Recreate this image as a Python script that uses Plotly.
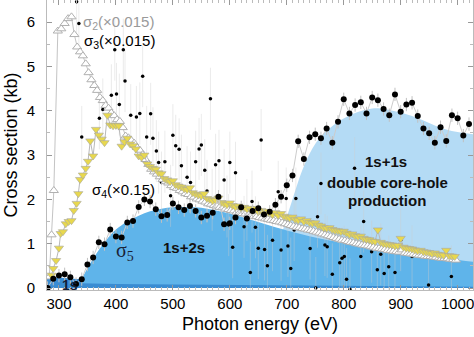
import plotly.graph_objects as go

# ---------------- data ----------------
# 1s+1s double core-hole band (light blue)
lb_E = [640, 660, 680, 693, 700, 710, 720, 730, 745, 760, 775, 790, 805, 820, 835, 850,
        865, 880, 900, 920, 940, 960, 980, 1000, 1027]
lb_V = [0, 0.35, 0.9, 1.3, 1.6, 2.0, 2.4, 2.75, 3.15, 3.42, 3.6, 3.75, 3.86, 3.95, 4.01, 4.05,
        4.05, 4.02, 3.96, 3.88, 3.78, 3.67, 3.58, 3.52, 3.47]

# 1s+2s band (medium blue)
mb_E = [333, 340, 350, 360, 370, 380, 390, 400, 420, 440, 460, 480, 500, 520, 540, 560, 580,
        600, 620, 640, 660, 680, 700, 740, 780, 820, 860, 900, 940, 980, 1000, 1027]
mb_V = [0.18, 0.22, 0.45, 0.66, 0.86, 1.03, 1.19, 1.32, 1.5, 1.63, 1.73, 1.79, 1.82, 1.83, 1.82,
        1.79, 1.74, 1.68, 1.61, 1.53, 1.45, 1.37, 1.3, 1.17, 1.06, 0.97, 0.9, 0.83, 0.75, 0.67,
        0.63, 0.59]

# 1s band (dark blue)
db_E = [279, 300, 320, 336, 339, 400, 500, 600, 700, 800, 900, 1027]
db_V = [0.26, 0.24, 0.22, 0.2, 0.11, 0.09, 0.08, 0.07, 0.06, 0.05, 0.04, 0.03]

# sigma_5 (large black dots)
s5_E = [280, 290, 300, 310, 320, 330, 340, 350, 360, 370, 380, 390, 400, 410, 420, 430, 440,
        450, 460, 470, 480, 490, 500, 510, 520, 530, 540, 550, 560, 570, 580, 590, 600, 610,
        620, 630, 640, 650, 660, 670, 680, 690, 700, 710, 720, 730, 740, 750, 760, 770, 780,
        790, 800, 810, 820, 830, 840, 850, 860, 870, 880, 890, 900, 910, 920, 930, 940, 950,
        960, 970, 980, 990, 1000, 1010, 1020]
s5_V = [0.0, 0.21, 0.28, 0.31, 0.24, 0.09, 0.2, 0.53, 0.69, 1.03,
        0.99, 1.32, 1.16, 1.14, 1.48, 1.51, 1.83, 2.0, 1.95, 1.78,
        1.62, 1.65, 1.91, 1.82, 1.76, 1.85, 1.74, 1.59, 1.63, 1.70,
        2.06, 1.44, 1.46, 1.59, 1.82, 1.57, 1.74, 1.8, 1.66, 1.72,
        1.88, 2.06, 2.32, 2.54, 3.31, 2.91, 3.40, 3.47, 3.38, 3.6,
        3.28, 3.75, 4.26, 3.94, 4.13, 4.19, 3.94, 4.3, 4.24, 4.04,
        3.9, 4.37, 3.98, 4.14, 4.18, 3.88, 3.6, 3.49, 3.28, 3.63,
        3.32, 3.9, 3.83, 3.44, 3.7]

# sigma_3 (x0.015) small black dots
s3_E = [331, 335, 340, 371, 377, 392, 398, 401, 406, 413, 416, 426, 436, 442, 447, 454, 461,
        465, 471, 475, 480, 486, 496, 500, 505, 511, 515, 525, 531, 540, 546, 550, 556, 560,
        566, 569, 575, 581, 590, 595, 598, 600, 605, 610, 625, 630, 636, 639, 645, 650, 655,
        661, 666, 675, 685, 690, 699, 702, 707, 713, 716, 741, 751, 754, 760, 767, 771, 780,
        793, 797, 801, 805, 811, 819, 830, 835, 849, 859, 865, 871, 879, 890, 900, 920, 949,
        989]
s3_V = [6.46, 5.97, 3.41, 3.83, 4.03, 4.35, 5.38, 4.38, 4.14, 5.38, 4.67, 3.9, 3.86, 3.94,
        4.78, 3.41, 3.93, 3.38, 3.09, 2.83, 2.38, 2.85, 2.08, 3.45, 3.21, 3.13, 2.76, 2.5, 2.38,
        2.85, 3.14, 3.23, 2.66, 2.19, 4.27, 1.99, 2.78, 2.87, 2.44, 1.84, 1.42, 2.83, 0.92, 2.6,
        1.38, 1.76, 0.35, 1.95, 1.37, 0.9, 3.34, 0.87, 0.5, 1.08, 2.17, 0.86, 2.02, 0.95, 0.44,
        1.31, 2.02, 0.89, 0.0, 1.61, 2.36, 0.97, 0.93, 0.31, 0.57, 0.67, 0.71, 0.2, -0.03, 2.7,
        0.71, 1.5, 0.82, 0.41, 0.76, 0.33, 0.48, 0.35, 1.08, 0.71, 0.07, 0.26]

# sigma_2 (x0.015) open grey up-triangles
s2_E = [283, 287, 291, 298, 304, 310, 316, 322, 327, 332, 337, 342, 347, 352, 357, 362, 367,
        372, 377, 382, 387, 392, 397, 402, 407, 412, 417, 422, 427, 432, 437, 442, 447, 452,
        457, 462, 467, 472, 477, 482, 487, 492, 497, 502, 507, 512, 517, 522, 527, 532, 537,
        542, 547, 552, 557, 562, 567, 572, 577, 582, 587, 592, 597, 602, 607, 612, 617, 622,
        627, 632, 637, 642, 647, 652, 657, 662, 667, 672, 677, 682, 687, 692, 697, 702, 707,
        712, 717, 722, 727, 732, 737, 742, 747, 752, 757, 762, 767, 772, 777, 782, 787, 792,
        797, 802, 807, 812, 817, 822, 827, 832, 837, 842, 847, 852, 857, 862, 867, 872, 877,
        882, 887, 892, 897, 902, 907, 912, 917, 922, 927, 932, 937, 942, 947, 952, 957, 962,
        967, 972, 977, 982, 987, 992, 997]
s2_V = [0.25, 1.20, 2.20, 5.80, 5.85, 5.97, 6.08, 6.12, 5.72, 5.44, 5.33, 5.24, 5.06, 4.86,
        4.70, 4.57, 4.46, 4.30, 4.23, 4.12, 4.06, 3.95, 3.89, 3.80, 3.76, 3.62, 3.43, 3.39,
        3.33, 3.27, 3.17, 3.11, 3.01, 2.90, 2.79, 2.68, 2.62, 2.57, 2.51, 2.45, 2.40, 2.37,
        2.31, 2.27, 2.25, 2.20, 2.17, 2.13, 2.11, 2.06, 2.05, 2.01, 1.99, 1.96, 1.94, 1.90,
        1.89, 1.86, 1.85, 1.82, 1.81, 1.78, 1.77, 1.75, 1.74, 1.71, 1.70, 1.68, 1.67, 1.65,
        1.64, 1.62, 1.61, 1.59, 1.58, 1.56, 1.55, 1.53, 1.52, 1.50, 1.49, 1.47, 1.45, 1.43,
        1.41, 1.39, 1.37, 1.36, 1.34, 1.33, 1.31, 1.30, 1.28, 1.26, 1.24, 1.22, 1.20, 1.18,
        1.16, 1.14, 1.12, 1.10, 1.08, 1.07, 1.05, 1.03, 1.02, 1.00, 0.99, 0.97, 0.96, 0.95,
        0.93, 0.92, 0.90, 0.89, 0.88, 0.87, 0.85, 0.84, 0.83, 0.82, 0.81, 0.86, 0.79, 0.78,
        0.77, 0.76, 0.75, 0.74, 0.73, 0.72, 0.71, 0.71, 0.70, 0.69, 0.68, 0.67, 0.67, 0.66,
        0.65, 0.64, 0.63]

# sigma_4 (x0.15) yellow down-triangles
s4_E = [287, 290, 295, 300, 303, 307, 312, 317, 322, 326, 331, 334, 337, 342, 347, 351, 355,
        360, 365, 370, 375, 380, 385, 390, 395, 400, 405, 410, 415, 420, 425, 430, 435, 440,
        445, 450, 455, 460, 465, 470, 475, 480, 485, 490, 495, 500, 505, 510, 515, 520, 525,
        530, 535, 540, 545, 550, 555, 560, 565, 570, 575, 580, 585, 590, 595, 600, 605, 610,
        615, 620, 625, 630, 635, 640, 645, 650, 655, 660, 665, 670, 675, 680, 685, 690, 695,
        700, 705, 710, 715, 720, 725, 730, 735, 740, 745, 750, 755, 760, 765, 770, 775, 780,
        785, 790, 795, 800, 805, 810, 815, 820, 825, 830, 835, 840, 845, 850, 855, 860, 865,
        870, 875, 880, 885, 890, 895, 900, 905, 910, 915, 920, 925, 930, 935, 940, 945, 950,
        955, 960, 965, 970, 975, 980, 985, 990, 995]
s4_V = [0.29, 0.44, 0.62, 0.90, 1.23, 1.27, 1.45, 1.50, 1.52, 1.75, 1.91, 2.13, 2.45, 2.55,
        2.70, 2.86, 3.32, 2.98, 3.58, 3.45, 3.36, 3.28, 3.90, 3.68, 3.66, 3.67, 3.66, 3.20,
        3.30, 3.38, 3.25, 3.21, 3.14, 2.98, 2.95, 3.00, 2.80, 2.74, 2.70, 2.68, 2.60, 2.58,
        2.47, 2.44, 2.40, 2.42, 2.33, 2.30, 2.28, 2.24, 2.22, 2.26, 2.15, 2.12, 2.10, 2.08,
        2.13, 2.02, 2.00, 1.97, 1.98, 2.03, 1.93, 1.90, 1.88, 1.92, 1.86, 1.83, 1.85, 1.80,
        1.82, 1.78, 1.80, 1.74, 1.79, 1.72, 1.75, 1.70, 1.73, 1.68, 1.66, 1.70, 1.64, 1.68,
        1.62, 1.60, 1.58, 1.60, 1.55, 1.53, 1.56, 1.50, 1.52, 1.48, 1.46, 1.47, 1.42, 1.40,
        1.36, 1.35, 1.36, 1.32, 1.30, 1.29, 1.27, 1.28, 1.24, 1.21, 1.22, 1.18, 1.16, 1.17,
        1.12, 1.10, 1.09, 1.06, 1.05, 1.31, 1.03, 1.00, 0.99, 0.98, 0.97, 0.95, 0.96, 1.12,
        0.92, 0.90, 0.89, 0.88, 0.86, 0.84, 0.85, 0.82, 0.81, 0.80, 0.78, 0.79, 0.76, 0.75,
        0.74, 0.85, 0.73, 0.72, 0.71]

x_ticks = [300, 400, 500, 600, 700, 800, 900, 1000]
y_ticks = [0, 1, 2, 3, 4, 5, 6]

# ---------------- figure ----------------
fig = go.Figure()

fig.add_trace(go.Scatter(x=lb_E, y=lb_V, mode="lines", fill="tozeroy", line=dict(width=0, shape="spline"),
                         fillcolor="#b4dbf5", hoverinfo="skip"))
fig.add_trace(go.Scatter(x=mb_E, y=mb_V, mode="lines", fill="tozeroy", line=dict(width=0, shape="spline"),
                         fillcolor="#5fb4ea", hoverinfo="skip"))
fig.add_trace(go.Scatter(x=db_E, y=db_V, mode="lines", fill="tozeroy", line=dict(width=0),
                         fillcolor="#3a8cd2", hoverinfo="skip"))

fig.add_trace(go.Scatter(x=s3_E, y=s3_V, mode="markers",
                         marker=dict(size=3.5, color="black"),
                         error_y=dict(type="constant", value=0.7, color="rgba(205,205,205,0.4)",
                                      thickness=1, width=0)))

fig.add_trace(go.Scatter(x=s2_E, y=s2_V, mode="lines+markers",
                         line=dict(color="#c4c4c4", width=1),
                         marker=dict(symbol="triangle-up", size=8, color="white",
                                     line=dict(color="#b0b0b0", width=1))))

fig.add_trace(go.Scatter(x=s4_E, y=s4_V, mode="lines+markers",
                         line=dict(color="#b8b8b8", width=1),
                         marker=dict(symbol="triangle-down", size=8, color="#e8d84e",
                                     line=dict(color="#a8a8a0", width=0.6))))

fig.add_trace(go.Scatter(x=s5_E, y=s5_V, mode="lines+markers",
                         line=dict(color="#cccccc", width=1),
                         marker=dict(size=6, color="black"),
                         error_y=dict(type="constant", value=0.15, color="#c0c0c0",
                                      thickness=1, width=0)))

txt = dict(family="Liberation Sans, Arial, sans-serif", size=15, color="black")
bold = dict(family="Liberation Sans, Arial, sans-serif", size=15, color="#111111")
annots = [
    dict(x=339, y=6.0, text="σ<sub>2</sub>(×0.015)", xanchor="left",
         font=dict(family="Liberation Sans, Arial, sans-serif", size=15, color="#9a9a9a")),
    dict(x=340, y=5.56, text="σ<sub>3</sub>(×0.015)", xanchor="left", font=txt),
    dict(x=354, y=2.19, text="σ<sub>4</sub>(×0.15)", xanchor="left", font=txt),
    dict(x=397, y=0.82, text="σ<sub>5</sub>", xanchor="left",
         font=dict(family="Liberation Serif, Times New Roman, serif", size=20, color="#1a2236")),
    dict(x=302, y=0.07, text="<b>1s</b>", xanchor="left",
         font=dict(family="Liberation Sans, Arial, sans-serif", size=14, color="#10203a")),
    dict(x=519, y=0.92, text="<b>1s+2s</b>", font=bold),
    dict(x=874, y=2.85, text="<b>1s+1s</b>", font=bold),
    dict(x=876, y=2.37, text="<b>double core-hole</b>", font=bold),
    dict(x=876, y=1.97, text="<b>production</b>", font=bold),
]
for a in annots:
    a.update(xref="x", yref="y", showarrow=False)

fig.update_layout(
    width=474, height=337,
    margin=dict(l=47, r=1, t=0, b=47),
    paper_bgcolor="white", plot_bgcolor="white",
    showlegend=False,
    annotations=annots,
    font=dict(family="Liberation Sans, Arial, sans-serif", color="black"),
)
fig.update_xaxes(
    range=[279, 1027], tickvals=x_ticks, ticktext=[str(v) for v in x_ticks],
    ticks="inside", ticklen=5, tickcolor="#999999", showline=True, linecolor="#bbbbbb",
    mirror="ticks", showgrid=False, zeroline=False,
    minor=dict(dtick=10, tick0=0, ticks="inside", ticklen=3, tickcolor="#bbbbbb"),
    tickfont=dict(size=15, color="black"), ticklabeloverflow="allow",
    title=dict(text="Photon energy (eV)", font=dict(size=18, color="black"), standoff=6),
    automargin=False,
)
fig.update_yaxes(
    range=[-0.045, 6.5], tickvals=y_ticks, ticktext=[str(v) for v in y_ticks],
    ticks="inside", ticklen=5, tickcolor="#999999", showline=True, linecolor="#bbbbbb",
    mirror="ticks", showgrid=False, zeroline=False,
    minor=dict(dtick=0.5, ticks="inside", ticklen=3, tickcolor="#bbbbbb"),
    tickfont=dict(size=15, color="black"), ticklabelstandoff=8,
    title=dict(text="Cross section (kb)", font=dict(size=18, color="black"), standoff=4),
    automargin=False,
)

fig.write_html("out.html")
